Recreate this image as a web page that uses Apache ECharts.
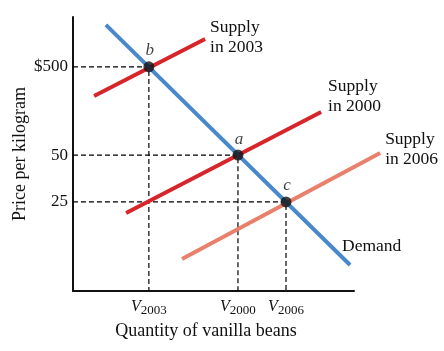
<!DOCTYPE html>
<html><head><meta charset="utf-8">
<script src="https://cdn.jsdelivr.net/npm/echarts@6/dist/echarts.min.js"></script>
<style>html,body{margin:0;padding:0;background:#fff}#c{width:444px;height:351px}</style>
</head><body><div id="c"></div>
<script>
// Abstract units: quantity 0..100, price position 0..100 (nonlinear price scale labelled by ticks)
const priceLevels = [32.5, 49.6, 81.8];
const priceLabels = ['25', '50', '$500'];
const quantityLevels = [27, 58.7, 75.8];
const quantityLabels = ['2003', '2000', '2006'];
const demand = [[11.7, 97.1], [98.6, 9.5]];
const supply2003 = [[7.5, 71.2], [47.0, 92.0]];
const supply2000 = [[18.9, 28.5], [88.3, 65.3]];
const supply2006 = [[38.8, 11.7], [109.3, 50.4]];
const equilibriumNames = ['b', 'a', 'c'];
const equilibriumQ = [27, 58.7, 75.8];
const equilibriumP = [81.8, 49.6, 32.5];

const FONT = 'Liberation Serif, Times New Roman, serif';
const RED = '#d6252b', BLUE = '#4a88cc', SALMON = '#e8806c', INK = '#111';

const endLabelBase = { show: true, fontFamily: FONT, fontSize: 17.5, color: INK, lineHeight: 20, align: 'left', distance: 5 };

const series = [];
equilibriumQ.forEach((q, i) => {
  series.push({
    type: 'line', data: [[0, equilibriumP[i]], [q, equilibriumP[i]], [q, 0]],
    symbol: 'none', silent: true, z: 1,
    lineStyle: { color: '#000', width: 1.2, type: [5, 3] }
  });
});
function curve(data, color, text, offset, z, axisIdx) {
  return {
    type: 'line', data: data, symbol: 'none', z: z,
    xAxisIndex: axisIdx, yAxisIndex: axisIdx,
    lineStyle: { color: color, width: 4 },
    endLabel: Object.assign({}, endLabelBase, { formatter: text, offset: offset })
  };
}
// curves drawn on a wider hidden copy of the same scale so they may run past the visible axis end
series.push(curve(supply2003, RED, 'Supply\nin 2003', [0, -2], 3, 1));
series.push(curve(supply2000, RED, 'Supply\nin 2000', [2, -16], 3, 1));
series.push(curve(supply2006, SALMON, 'Supply\nin 2006', [0, -3], 3, 1));
series.push(curve(demand, BLUE, 'Demand', [-13, -19], 4, 1));
series.push({
  type: 'scatter', z: 5, symbolSize: 11,
  itemStyle: { color: INK },
  data: equilibriumQ.map((q, i) => ({ value: [q, equilibriumP[i]], name: equilibriumNames[i] })),
  label: { show: true, position: 'top', distance: 2, offset: [1, 0], formatter: '{b}', fontFamily: FONT, fontStyle: 'italic', fontSize: 17, color: INK }
});

const W = 281; // visible quantity-axis length in px for 0..100
const chart = echarts.init(document.getElementById('c'));
chart.setOption({
  animation: false,
  grid: [
    { left: 73, width: W, top: 17, bottom: 60, outerBoundsMode: 'none', containLabel: false },
    { left: 73, width: W * 1.1, top: 17, bottom: 60, outerBoundsMode: 'none', containLabel: false }
  ],
  xAxis: [{
    type: 'value', min: 0, max: 100, gridIndex: 0,
    name: 'Quantity of vanilla beans', nameLocation: 'middle', nameGap: 31,
    nameTextStyle: { fontFamily: FONT, fontSize: 18, color: INK, padding: [0, 15, 0, 0] },
    axisLine: { lineStyle: { color: INK, width: 2 } },
    axisTick: { show: false }, splitLine: { show: false },
    axisLabel: {
      customValues: quantityLevels, margin: 8,
      formatter: function (v) { const i = quantityLevels.indexOf(v); return '{v|V}{s|' + quantityLabels[i] + '}'; },
      rich: {
        v: { fontFamily: FONT, fontStyle: 'italic', fontSize: 16, color: INK, verticalAlign: 'top' },
        s: { fontFamily: FONT, fontSize: 13, color: INK, padding: [5, 0, 0, 0] }
      }
    }
  }, {
    type: 'value', min: 0, max: 110, gridIndex: 1, show: false
  }],
  yAxis: [{
    type: 'value', min: 0, max: 100, gridIndex: 0,
    name: 'Price per kilogram', nameLocation: 'middle', nameGap: 44, nameRotate: 90, nameMoveOverlap: false,
    nameTextStyle: { fontFamily: FONT, fontSize: 18, color: INK },
    axisLine: { lineStyle: { color: INK, width: 2 } },
    axisTick: { show: false }, splitLine: { show: false },
    axisLabel: {
      customValues: priceLevels, margin: 5,
      formatter: function (v) { return priceLabels[priceLevels.indexOf(v)]; },
      fontFamily: FONT, fontSize: 17, color: INK
    }
  }, {
    type: 'value', min: 0, max: 100, gridIndex: 1, show: false
  }],
  series: series
});
</script></body></html>
